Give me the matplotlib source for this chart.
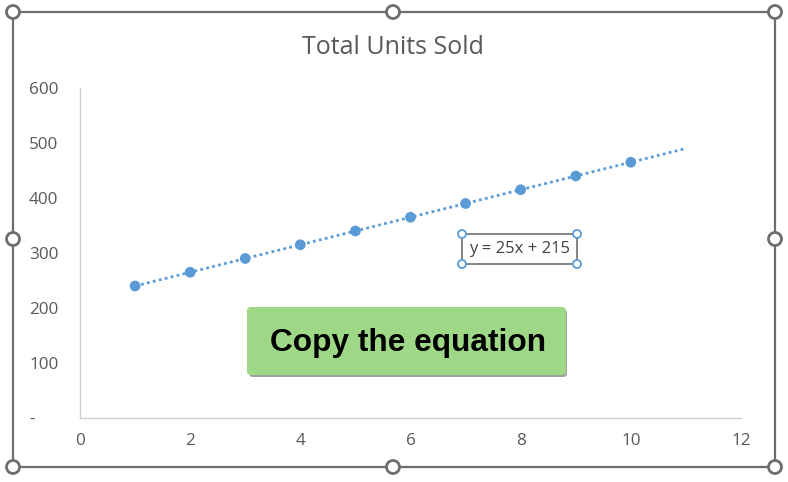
import matplotlib.pyplot as plt
from matplotlib.patches import Circle, FancyBboxPatch, Rectangle
import numpy as np

# data
months = [1, 2, 3, 4, 5, 6, 7, 8, 9, 10]
units = [240, 265, 290, 315, 340, 365, 390, 415, 440, 465]
x_ticks = [0, 2, 4, 6, 8, 10, 12]
y_ticks = [0, 100, 200, 300, 400, 500, 600]
y_tick_labels = ['-', '100', '200', '300', '400', '500', '600']

W, H = 788, 482
fig = plt.figure(figsize=(W / 100, H / 100), dpi=100)
plt.rcParams['font.family'] = ['Open Sans', 'DejaVu Sans']

ax = fig.add_axes([80 / W, 1 - 418 / H, (741 - 80) / W, (418 - 88) / H])

blue = '#5B9BD5'
grey_txt = '#595959'

# trendline (linear fit, forecast forward to 11)
slope, icpt = np.polyfit(months, units, 1)
tx = np.array([months[0], 11])
ax.plot(tx, slope * tx + icpt, linestyle=(0, (1, 1.2)), color=blue, linewidth=2)
ax.scatter(months, units, s=60, color=blue, zorder=3, edgecolors='none')

ax.set_xlim(0, 12)
ax.set_ylim(0, 600)
ax.set_xticks(x_ticks)
ax.set_yticks(y_ticks)
ax.set_yticklabels(y_tick_labels)
ax.tick_params(axis='both', length=0, labelsize=12.3, colors=grey_txt)
ax.tick_params(axis='x', pad=11)
ax.tick_params(axis='y', pad=36.7)
for lbl in ax.get_yticklabels():
    lbl.set_horizontalalignment('left')
for s in ['top', 'right']:
    ax.spines[s].set_visible(False)
for s in ['left', 'bottom']:
    ax.spines[s].set_color('#d0d0d0')
    ax.spines[s].set_linewidth(1)

fig.text(393 / W, 1 - 47 / H, 'Total Units Sold', ha='center', va='center',
         fontsize=18, color=grey_txt)

# chart frame with handles
frame = Rectangle((13 / W, 1 - 467 / H), (775 - 13) / W, (467 - 12) / H,
                  transform=fig.transFigure, fill=False, edgecolor='#6e6e6e', linewidth=1.6)
fig.add_artist(frame)
for hx, hy in [(13, 12), (393, 12), (775, 12), (13, 239), (775, 239),
               (13, 467), (393, 467), (775, 467)]:
    fig.add_artist(Circle((hx, H - hy), 6.5, transform=None, facecolor='white',
                          edgecolor='#6e6e6e', linewidth=2, zorder=5))

# equation label box
box = Rectangle((462 / W, 1 - 264 / H), (577 - 462) / W, 30 / H, transform=fig.transFigure,
                facecolor='white', edgecolor='#707070', linewidth=1.2, zorder=4)
fig.add_artist(box)
fig.text(519.5 / W, 1 - 249 / H, f'y = {slope:.0f}x + {icpt:.0f}', ha='center', va='center',
         fontsize=12, color='#404040', zorder=6)
for hx, hy in [(462, 234), (577, 234), (462, 264), (577, 264)]:
    fig.add_artist(Circle((hx, H - hy), 4, transform=None, facecolor='white',
                          edgecolor=blue, linewidth=1.3, zorder=7))

# green button
shadow = FancyBboxPatch((249, H - 377), 318, 68, boxstyle='round,pad=0,rounding_size=4',
                        transform=None, facecolor='#a0a0a0', edgecolor='none', zorder=4)
fig.add_artist(shadow)
btn = FancyBboxPatch((247, H - 375), 319, 68, boxstyle='round,pad=0,rounding_size=4',
                     transform=None, facecolor='#9ED886', edgecolor='none', zorder=5)
fig.add_artist(btn)
fig.text(408.5 / W, 1 - 342.5 / H, 'Copy the equation', ha='center', va='center',
         fontsize=22.8, fontweight='bold', family='Liberation Sans', color='#000000', zorder=6)

fig.savefig('out.png', dpi=100)
